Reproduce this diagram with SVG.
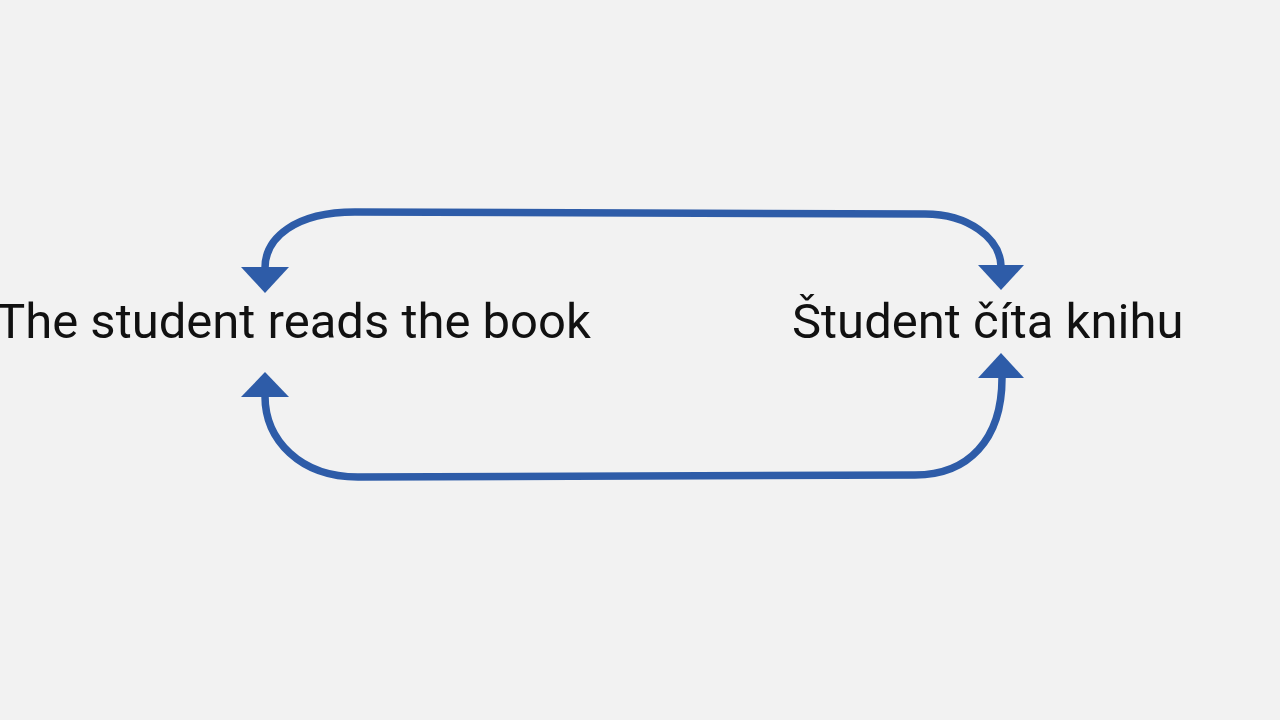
<svg xmlns="http://www.w3.org/2000/svg" width="1280" height="720" viewBox="0 0 1280 720">
<style>
.lbl{font-family:Roboto,"Liberation Sans",sans-serif;font-size:49px;fill:#111}
.conn{fill:none;stroke:#2e5ca8;stroke-width:7.5;stroke-linecap:round}
.head{fill:#2e5ca8}
</style>
<rect width="1280" height="720" fill="#f2f2f2"/>
<g id="connectors">
<path class="conn" d="M265 268 C265 238 295 212 355 212 L925 214 C968 214 1000 238 1001 266"/>
<polygon class="head" points="241,267 289,267 265,293"/>
<polygon class="head" points="978,265 1024,265 1001,290"/>
<path class="conn" d="M265 396 C265 440 300 477 358 477 L915 475 C968 475 1002 440 1002 378"/>
<polygon class="head" points="241,397 289,397 265,372"/>
<polygon class="head" points="978,378 1024,378 1001,353"/>
</g>
<g id="node-en"><text class="lbl" x="-4" y="338">The student reads the book</text></g>
<g id="node-sk"><text class="lbl" x="792" y="338">Študent číta knihu</text></g>
</svg>
